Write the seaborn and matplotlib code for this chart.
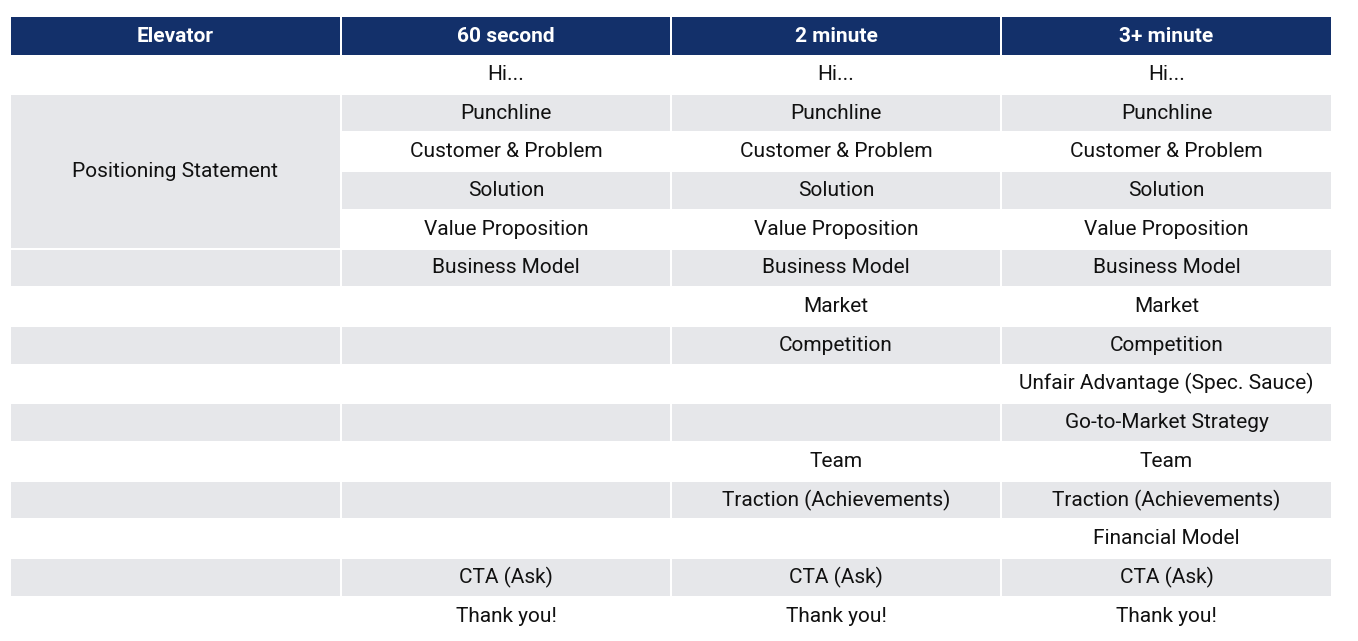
import matplotlib
matplotlib.use("Agg")
import matplotlib.pyplot as plt
import seaborn as sns
from matplotlib.patches import Rectangle

sns.set_theme(style="white")
plt.rcParams['font.family'] = ['Roboto', 'DejaVu Sans']

headers = ["Elevator", "60 second", "2 minute", "3+ minute"]
col_elevator = ["", "Positioning Statement", "", "", "", "", "", "", "", "", "", "", "", "", ""]
col_60 = ["Hi...", "Punchline", "Customer & Problem", "Solution", "Value Proposition", "Business Model",
          "", "", "", "", "", "", "", "CTA (Ask)", "Thank you!"]
col_2 = ["Hi...", "Punchline", "Customer & Problem", "Solution", "Value Proposition", "Business Model",
         "Market", "Competition", "", "", "Team", "Traction (Achievements)", "", "CTA (Ask)", "Thank you!"]
col_3 = ["Hi...", "Punchline", "Customer & Problem", "Solution", "Value Proposition", "Business Model",
         "Market", "Competition", "Unfair Advantage (Spec. Sauce)", "Go-to-Market Strategy", "Team",
         "Traction (Achievements)", "Financial Model", "CTA (Ask)", "Thank you!"]
merge_rows = (1, 4)  # Positioning Statement spans these rows in column 0

NAVY = "#13306a"
GRAY = "#e6e7ea"
fig = plt.figure(figsize=(13.58, 6.41), dpi=100)
ax = fig.add_axes([0, 0, 1, 1])
ax.set_xlim(0, 1358); ax.set_ylim(641, 0); ax.axis("off")

xs = [11, 342, 672, 1002, 1333]
gap = 2
top, hh = 17, 38
rh = 38.7
y0 = 56

for i, h in enumerate(headers):
    ax.add_patch(Rectangle((xs[i], top), xs[i+1]-xs[i]-gap, hh, color=NAVY, lw=0))
    ax.text((xs[i]+xs[i+1]-gap)/2, top+hh/2, h, color="white", fontsize=15, fontweight="bold",
            ha="center", va="center")

cols = [col_elevator, col_60, col_2, col_3]
for c, col in enumerate(cols):
    for r, txt in enumerate(col):
        x = xs[c]; w = xs[c+1]-xs[c]-gap
        if c == 0 and merge_rows[0] <= r <= merge_rows[1]:
            if r != merge_rows[0]:
                continue
            y = y0 + r*rh
            hgt = (merge_rows[1]-merge_rows[0]+1)*rh - gap
            ax.add_patch(Rectangle((x, y), w, hgt, color=GRAY, lw=0))
            ax.text(x+w/2, y+hgt/2, txt, fontsize=15, color="#111", ha="center", va="center")
            continue
        y = y0 + r*rh
        color = GRAY if r % 2 == 1 else "white"
        ax.add_patch(Rectangle((x, y), w, rh-gap, color=color, lw=0))
        if txt:
            ax.text(x+w/2, y+(rh-gap)/2, txt, fontsize=15, color="#111", ha="center", va="center")

fig.savefig("out.png", dpi=100, facecolor="white")
